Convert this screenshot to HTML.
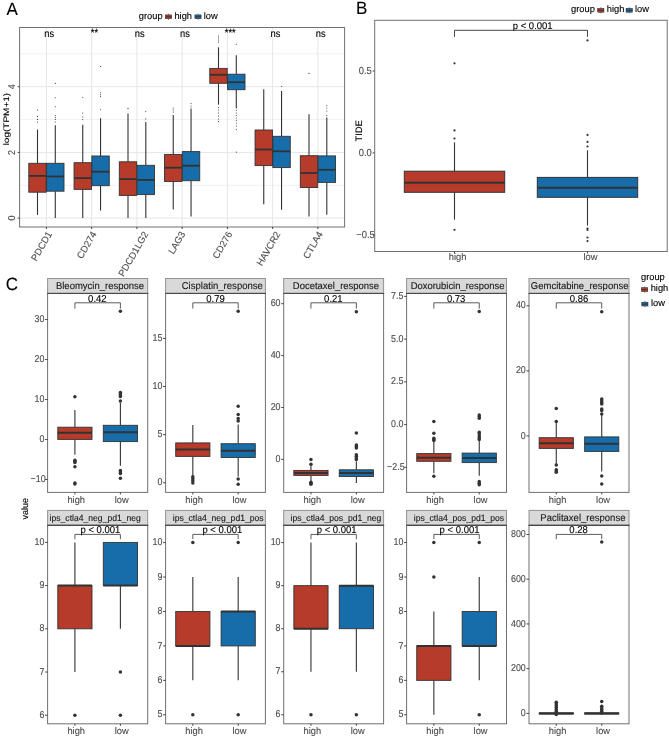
<!DOCTYPE html>
<html><head><meta charset="utf-8"><title>Figure</title>
<style>html,body{margin:0;padding:0;background:#fff;} svg{display:block;} text{font-family:"Liberation Sans", sans-serif;stroke-width:0.12px;text-rendering:geometricPrecision;}</style>
</head><body>
<svg width="669" height="738" viewBox="0 0 669 738">
<defs><filter id="soft" x="0" y="0" width="100%" height="100%"><feGaussianBlur stdDeviation="0.35"/></filter></defs>
<rect x="0" y="0" width="669" height="738" fill="#fff"/>
<g filter="url(#soft)">
<rect x="0" y="0" width="669" height="738" fill="#fff"/>
<line x1="19.60" y1="185.25" x2="344.60" y2="185.25" stroke="#EEEEEE" stroke-width="0.8" />
<line x1="19.60" y1="119.55" x2="344.60" y2="119.55" stroke="#EEEEEE" stroke-width="0.8" />
<line x1="19.60" y1="53.85" x2="344.60" y2="53.85" stroke="#EEEEEE" stroke-width="0.8" />
<line x1="19.60" y1="218.10" x2="344.60" y2="218.10" stroke="#E6E6E6" stroke-width="1.0" />
<line x1="19.60" y1="152.40" x2="344.60" y2="152.40" stroke="#E6E6E6" stroke-width="1.0" />
<line x1="19.60" y1="86.70" x2="344.60" y2="86.70" stroke="#E6E6E6" stroke-width="1.0" />
<line x1="46.40" y1="27.50" x2="46.40" y2="227.00" stroke="#E6E6E6" stroke-width="1.0" />
<line x1="91.65" y1="27.50" x2="91.65" y2="227.00" stroke="#E6E6E6" stroke-width="1.0" />
<line x1="136.90" y1="27.50" x2="136.90" y2="227.00" stroke="#E6E6E6" stroke-width="1.0" />
<line x1="182.15" y1="27.50" x2="182.15" y2="227.00" stroke="#E6E6E6" stroke-width="1.0" />
<line x1="227.40" y1="27.50" x2="227.40" y2="227.00" stroke="#E6E6E6" stroke-width="1.0" />
<line x1="272.65" y1="27.50" x2="272.65" y2="227.00" stroke="#E6E6E6" stroke-width="1.0" />
<line x1="317.90" y1="27.50" x2="317.90" y2="227.00" stroke="#E6E6E6" stroke-width="1.0" />
<line x1="37.50" y1="129.50" x2="37.50" y2="163.30" stroke="#333333" stroke-width="1.1" />
<line x1="37.50" y1="192.20" x2="37.50" y2="214.90" stroke="#333333" stroke-width="1.1" />
<rect x="28.80" y="163.30" width="17.40" height="28.90" fill="#B63A2A" stroke="#333333" stroke-width="0.9" />
<line x1="28.80" y1="175.90" x2="46.20" y2="175.90" stroke="#333333" stroke-width="1.8" />
<circle cx="37.50" cy="110.00" r="0.55" fill="#333333"/>
<circle cx="37.50" cy="116.40" r="0.55" fill="#333333"/>
<circle cx="37.50" cy="119.40" r="0.55" fill="#333333"/>
<circle cx="37.50" cy="122.00" r="0.55" fill="#333333"/>
<line x1="55.30" y1="125.30" x2="55.30" y2="163.30" stroke="#333333" stroke-width="1.1" />
<line x1="55.30" y1="191.20" x2="55.30" y2="218.10" stroke="#333333" stroke-width="1.1" />
<rect x="46.60" y="163.30" width="17.40" height="27.90" fill="#146DAA" stroke="#333333" stroke-width="0.9" />
<line x1="46.60" y1="176.50" x2="64.00" y2="176.50" stroke="#333333" stroke-width="1.8" />
<circle cx="55.30" cy="83.40" r="0.55" fill="#333333"/>
<circle cx="55.30" cy="97.80" r="0.55" fill="#333333"/>
<circle cx="55.30" cy="106.70" r="0.55" fill="#333333"/>
<circle cx="55.30" cy="115.60" r="0.55" fill="#333333"/>
<circle cx="55.30" cy="117.50" r="0.55" fill="#333333"/>
<circle cx="55.30" cy="119.40" r="0.55" fill="#333333"/>
<circle cx="55.30" cy="122.00" r="0.55" fill="#333333"/>
<line x1="82.75" y1="124.70" x2="82.75" y2="162.70" stroke="#333333" stroke-width="1.1" />
<line x1="82.75" y1="189.40" x2="82.75" y2="218.10" stroke="#333333" stroke-width="1.1" />
<rect x="74.05" y="162.70" width="17.40" height="26.70" fill="#B63A2A" stroke="#333333" stroke-width="0.9" />
<line x1="74.05" y1="178.10" x2="91.45" y2="178.10" stroke="#333333" stroke-width="1.8" />
<circle cx="82.75" cy="97.30" r="0.55" fill="#333333"/>
<circle cx="82.75" cy="113.00" r="0.55" fill="#333333"/>
<circle cx="82.75" cy="117.00" r="0.55" fill="#333333"/>
<circle cx="82.75" cy="119.50" r="0.55" fill="#333333"/>
<line x1="100.55" y1="118.30" x2="100.55" y2="156.00" stroke="#333333" stroke-width="1.1" />
<line x1="100.55" y1="185.70" x2="100.55" y2="210.60" stroke="#333333" stroke-width="1.1" />
<rect x="91.85" y="156.00" width="17.40" height="29.70" fill="#146DAA" stroke="#333333" stroke-width="0.9" />
<line x1="91.85" y1="171.70" x2="109.25" y2="171.70" stroke="#333333" stroke-width="1.8" />
<circle cx="100.55" cy="66.60" r="0.55" fill="#333333"/>
<circle cx="100.55" cy="92.80" r="0.55" fill="#333333"/>
<circle cx="100.55" cy="94.70" r="0.55" fill="#333333"/>
<circle cx="100.55" cy="96.60" r="0.55" fill="#333333"/>
<circle cx="100.55" cy="109.80" r="0.55" fill="#333333"/>
<line x1="128.00" y1="113.50" x2="128.00" y2="161.80" stroke="#333333" stroke-width="1.1" />
<line x1="128.00" y1="195.40" x2="128.00" y2="217.90" stroke="#333333" stroke-width="1.1" />
<rect x="119.30" y="161.80" width="17.40" height="33.60" fill="#B63A2A" stroke="#333333" stroke-width="0.9" />
<line x1="119.30" y1="179.10" x2="136.70" y2="179.10" stroke="#333333" stroke-width="1.8" />
<circle cx="128.00" cy="108.40" r="0.55" fill="#333333"/>
<line x1="145.80" y1="121.90" x2="145.80" y2="165.30" stroke="#333333" stroke-width="1.1" />
<line x1="145.80" y1="194.60" x2="145.80" y2="217.90" stroke="#333333" stroke-width="1.1" />
<rect x="137.10" y="165.30" width="17.40" height="29.30" fill="#146DAA" stroke="#333333" stroke-width="0.9" />
<line x1="137.10" y1="179.90" x2="154.50" y2="179.90" stroke="#333333" stroke-width="1.8" />
<circle cx="145.80" cy="111.60" r="0.55" fill="#333333"/>
<circle cx="145.80" cy="118.90" r="0.55" fill="#333333"/>
<line x1="173.25" y1="114.90" x2="173.25" y2="154.40" stroke="#333333" stroke-width="1.1" />
<line x1="173.25" y1="181.50" x2="173.25" y2="209.60" stroke="#333333" stroke-width="1.1" />
<rect x="164.55" y="154.40" width="17.40" height="27.10" fill="#B63A2A" stroke="#333333" stroke-width="0.9" />
<line x1="164.55" y1="167.70" x2="181.95" y2="167.70" stroke="#333333" stroke-width="1.8" />
<circle cx="173.25" cy="108.00" r="0.55" fill="#333333"/>
<circle cx="173.25" cy="110.00" r="0.55" fill="#333333"/>
<circle cx="173.25" cy="112.00" r="0.55" fill="#333333"/>
<line x1="191.05" y1="109.00" x2="191.05" y2="151.60" stroke="#333333" stroke-width="1.1" />
<line x1="191.05" y1="180.70" x2="191.05" y2="216.50" stroke="#333333" stroke-width="1.1" />
<rect x="182.35" y="151.60" width="17.40" height="29.10" fill="#146DAA" stroke="#333333" stroke-width="0.9" />
<line x1="182.35" y1="165.70" x2="199.75" y2="165.70" stroke="#333333" stroke-width="1.8" />
<circle cx="191.05" cy="103.60" r="0.55" fill="#333333"/>
<circle cx="191.05" cy="106.00" r="0.55" fill="#333333"/>
<circle cx="191.05" cy="108.00" r="0.55" fill="#333333"/>
<line x1="218.50" y1="47.30" x2="218.50" y2="68.40" stroke="#333333" stroke-width="1.1" />
<line x1="218.50" y1="83.30" x2="218.50" y2="104.70" stroke="#333333" stroke-width="1.1" />
<rect x="209.80" y="68.40" width="17.40" height="14.90" fill="#B63A2A" stroke="#333333" stroke-width="0.9" />
<line x1="209.80" y1="74.80" x2="227.20" y2="74.80" stroke="#333333" stroke-width="1.8" />
<circle cx="218.50" cy="36.00" r="0.55" fill="#333333"/>
<circle cx="218.50" cy="38.00" r="0.55" fill="#333333"/>
<circle cx="218.50" cy="40.00" r="0.55" fill="#333333"/>
<circle cx="218.50" cy="42.00" r="0.55" fill="#333333"/>
<circle cx="218.50" cy="107.60" r="0.55" fill="#333333"/>
<circle cx="218.50" cy="110.00" r="0.55" fill="#333333"/>
<circle cx="218.50" cy="113.00" r="0.55" fill="#333333"/>
<circle cx="218.50" cy="116.00" r="0.55" fill="#333333"/>
<circle cx="218.50" cy="119.00" r="0.55" fill="#333333"/>
<circle cx="218.50" cy="121.60" r="0.55" fill="#333333"/>
<line x1="236.30" y1="55.30" x2="236.30" y2="74.20" stroke="#333333" stroke-width="1.1" />
<line x1="236.30" y1="89.70" x2="236.30" y2="108.60" stroke="#333333" stroke-width="1.1" />
<rect x="227.60" y="74.20" width="17.40" height="15.50" fill="#146DAA" stroke="#333333" stroke-width="0.9" />
<line x1="227.60" y1="82.20" x2="245.00" y2="82.20" stroke="#333333" stroke-width="1.8" />
<circle cx="236.30" cy="44.30" r="0.55" fill="#333333"/>
<circle cx="236.30" cy="110.50" r="0.55" fill="#333333"/>
<circle cx="236.30" cy="113.00" r="0.55" fill="#333333"/>
<circle cx="236.30" cy="115.50" r="0.55" fill="#333333"/>
<circle cx="236.30" cy="118.00" r="0.55" fill="#333333"/>
<circle cx="236.30" cy="120.50" r="0.55" fill="#333333"/>
<circle cx="236.30" cy="123.00" r="0.55" fill="#333333"/>
<circle cx="236.30" cy="126.00" r="0.55" fill="#333333"/>
<circle cx="236.30" cy="129.60" r="0.55" fill="#333333"/>
<circle cx="236.30" cy="152.10" r="0.55" fill="#333333"/>
<line x1="263.75" y1="89.30" x2="263.75" y2="130.00" stroke="#333333" stroke-width="1.1" />
<line x1="263.75" y1="165.60" x2="263.75" y2="204.30" stroke="#333333" stroke-width="1.1" />
<rect x="255.05" y="130.00" width="17.40" height="35.60" fill="#B63A2A" stroke="#333333" stroke-width="0.9" />
<line x1="255.05" y1="149.50" x2="272.45" y2="149.50" stroke="#333333" stroke-width="1.8" />
<line x1="281.55" y1="91.10" x2="281.55" y2="136.30" stroke="#333333" stroke-width="1.1" />
<line x1="281.55" y1="167.60" x2="281.55" y2="209.80" stroke="#333333" stroke-width="1.1" />
<rect x="272.85" y="136.30" width="17.40" height="31.30" fill="#146DAA" stroke="#333333" stroke-width="0.9" />
<line x1="272.85" y1="151.30" x2="290.25" y2="151.30" stroke="#333333" stroke-width="1.8" />
<circle cx="281.55" cy="86.30" r="0.55" fill="#333333"/>
<line x1="309.00" y1="114.20" x2="309.00" y2="155.70" stroke="#333333" stroke-width="1.1" />
<line x1="309.00" y1="187.50" x2="309.00" y2="216.60" stroke="#333333" stroke-width="1.1" />
<rect x="300.30" y="155.70" width="17.40" height="31.80" fill="#B63A2A" stroke="#333333" stroke-width="0.9" />
<line x1="300.30" y1="173.00" x2="317.70" y2="173.00" stroke="#333333" stroke-width="1.8" />
<circle cx="309.00" cy="73.40" r="0.55" fill="#333333"/>
<line x1="326.80" y1="117.60" x2="326.80" y2="155.90" stroke="#333333" stroke-width="1.1" />
<line x1="326.80" y1="182.40" x2="326.80" y2="214.80" stroke="#333333" stroke-width="1.1" />
<rect x="318.10" y="155.90" width="17.40" height="26.50" fill="#146DAA" stroke="#333333" stroke-width="0.9" />
<line x1="318.10" y1="169.80" x2="335.50" y2="169.80" stroke="#333333" stroke-width="1.8" />
<circle cx="326.80" cy="105.70" r="0.55" fill="#333333"/>
<circle cx="326.80" cy="108.00" r="0.55" fill="#333333"/>
<circle cx="326.80" cy="111.00" r="0.55" fill="#333333"/>
<circle cx="326.80" cy="115.60" r="0.55" fill="#333333"/>
<rect x="19.60" y="27.50" width="325.00" height="199.50" fill="none" stroke="#707070" stroke-width="1.0" />
<line x1="17.60" y1="218.10" x2="19.60" y2="218.10" stroke="#333333" stroke-width="0.9" />
<text transform="translate(15.00,218.10) rotate(-90) scale(1,1.1)" font-size="9.0" text-anchor="middle" fill="#4D4D4D" stroke="#4D4D4D">0</text>
<line x1="17.60" y1="152.40" x2="19.60" y2="152.40" stroke="#333333" stroke-width="0.9" />
<text transform="translate(15.00,152.40) rotate(-90) scale(1,1.1)" font-size="9.0" text-anchor="middle" fill="#4D4D4D" stroke="#4D4D4D">2</text>
<line x1="17.60" y1="86.70" x2="19.60" y2="86.70" stroke="#333333" stroke-width="0.9" />
<text transform="translate(15.00,86.70) rotate(-90) scale(1,1.1)" font-size="9.0" text-anchor="middle" fill="#4D4D4D" stroke="#4D4D4D">4</text>
<text transform="translate(9.0,119.1) rotate(-90) scale(1.0,0.8)" font-size="10.0" text-anchor="middle" fill="#000" stroke="#000">log(TPM+1)</text>
<line x1="46.40" y1="227.00" x2="46.40" y2="229.00" stroke="#333333" stroke-width="0.9" />
<text transform="translate(52.40,233.80) rotate(-60)" font-size="9.5" text-anchor="end" fill="#4D4D4D" stroke="#4D4D4D">PDCD1</text>
<line x1="91.65" y1="227.00" x2="91.65" y2="229.00" stroke="#333333" stroke-width="0.9" />
<text transform="translate(96.85,233.80) rotate(-60)" font-size="9.5" text-anchor="end" fill="#4D4D4D" stroke="#4D4D4D">CD274</text>
<line x1="136.90" y1="227.00" x2="136.90" y2="229.00" stroke="#333333" stroke-width="0.9" />
<text transform="translate(148.70,233.80) rotate(-60)" font-size="9.5" text-anchor="end" fill="#4D4D4D" stroke="#4D4D4D">PDCD1LG2</text>
<line x1="182.15" y1="227.00" x2="182.15" y2="229.00" stroke="#333333" stroke-width="0.9" />
<text transform="translate(185.65,233.80) rotate(-60)" font-size="9.5" text-anchor="end" fill="#4D4D4D" stroke="#4D4D4D">LAG3</text>
<line x1="227.40" y1="227.00" x2="227.40" y2="229.00" stroke="#333333" stroke-width="0.9" />
<text transform="translate(232.60,233.80) rotate(-60)" font-size="9.5" text-anchor="end" fill="#4D4D4D" stroke="#4D4D4D">CD276</text>
<line x1="272.65" y1="227.00" x2="272.65" y2="229.00" stroke="#333333" stroke-width="0.9" />
<text transform="translate(280.75,233.80) rotate(-60)" font-size="9.5" text-anchor="end" fill="#4D4D4D" stroke="#4D4D4D">HAVCR2</text>
<line x1="317.90" y1="227.00" x2="317.90" y2="229.00" stroke="#333333" stroke-width="0.9" />
<text transform="translate(323.10,233.80) rotate(-60)" font-size="9.5" text-anchor="end" fill="#4D4D4D" stroke="#4D4D4D">CTLA4</text>
<text transform="translate(49.20,36.50) scale(1,1.12)" font-size="9.3" text-anchor="middle" fill="#000" stroke="#000" >ns</text>
<text transform="translate(94.45,35.70) scale(1,1.12)" font-size="9.3" text-anchor="middle" fill="#000" stroke="#000" >**</text>
<text transform="translate(139.70,36.50) scale(1,1.12)" font-size="9.3" text-anchor="middle" fill="#000" stroke="#000" >ns</text>
<text transform="translate(184.95,36.50) scale(1,1.12)" font-size="9.3" text-anchor="middle" fill="#000" stroke="#000" >ns</text>
<text transform="translate(230.20,35.70) scale(1,1.12)" font-size="9.3" text-anchor="middle" fill="#000" stroke="#000" >***</text>
<text transform="translate(275.45,36.50) scale(1,1.12)" font-size="9.3" text-anchor="middle" fill="#000" stroke="#000" >ns</text>
<text transform="translate(320.70,36.50) scale(1,1.12)" font-size="9.3" text-anchor="middle" fill="#000" stroke="#000" >ns</text>
<text transform="translate(138.80,18.80) scale(1,1.0)" font-size="9.3" text-anchor="start" fill="#000" stroke="#000" >group</text>
<line x1="168.50" y1="13.70" x2="168.50" y2="14.90" stroke="#333333" stroke-width="0.6" />
<line x1="168.50" y1="18.70" x2="168.50" y2="19.90" stroke="#333333" stroke-width="0.6" />
<rect x="165.40" y="14.90" width="6.20" height="3.80" fill="#B63A2A" stroke="#333333" stroke-width="0.6" />
<line x1="165.40" y1="16.80" x2="171.60" y2="16.80" stroke="#333333" stroke-width="0.9" />
<text transform="translate(174.40,18.80) scale(1,1.0)" font-size="9.3" text-anchor="start" fill="#000" stroke="#000" >high</text>
<line x1="198.00" y1="13.70" x2="198.00" y2="14.90" stroke="#333333" stroke-width="0.6" />
<line x1="198.00" y1="18.70" x2="198.00" y2="19.90" stroke="#333333" stroke-width="0.6" />
<rect x="194.90" y="14.90" width="6.20" height="3.80" fill="#146DAA" stroke="#333333" stroke-width="0.6" />
<line x1="194.90" y1="16.80" x2="201.10" y2="16.80" stroke="#333333" stroke-width="0.9" />
<text transform="translate(203.70,18.80) scale(1,1.0)" font-size="9.3" text-anchor="start" fill="#000" stroke="#000" >low</text>
<text transform="translate(6.50,14.70) scale(1,1.05)" font-size="17" text-anchor="start" fill="#000" stroke="#000" >A</text>
<line x1="454.50" y1="142.30" x2="454.50" y2="171.20" stroke="#333333" stroke-width="1.1" />
<line x1="454.50" y1="192.30" x2="454.50" y2="219.60" stroke="#333333" stroke-width="1.1" />
<rect x="404.30" y="171.20" width="100.40" height="21.10" fill="#B63A2A" stroke="#333333" stroke-width="1.0" />
<line x1="404.30" y1="182.70" x2="504.70" y2="182.70" stroke="#333333" stroke-width="2.0" />
<circle cx="454.50" cy="63.30" r="1.1" fill="#333333"/>
<circle cx="454.50" cy="130.40" r="1.1" fill="#333333"/>
<circle cx="454.50" cy="138.50" r="1.1" fill="#333333"/>
<circle cx="454.50" cy="229.80" r="1.1" fill="#333333"/>
<line x1="587.50" y1="150.30" x2="587.50" y2="177.40" stroke="#333333" stroke-width="1.1" />
<line x1="587.50" y1="197.30" x2="587.50" y2="225.60" stroke="#333333" stroke-width="1.1" />
<rect x="537.30" y="177.40" width="100.40" height="19.90" fill="#146DAA" stroke="#333333" stroke-width="1.0" />
<line x1="537.30" y1="187.70" x2="637.70" y2="187.70" stroke="#333333" stroke-width="2.0" />
<circle cx="587.50" cy="40.40" r="1.1" fill="#333333"/>
<circle cx="587.50" cy="134.90" r="1.1" fill="#333333"/>
<circle cx="587.50" cy="141.90" r="1.1" fill="#333333"/>
<circle cx="587.50" cy="146.50" r="1.1" fill="#333333"/>
<circle cx="587.50" cy="228.60" r="1.1" fill="#333333"/>
<circle cx="587.50" cy="230.00" r="1.1" fill="#333333"/>
<circle cx="587.50" cy="237.50" r="1.1" fill="#333333"/>
<circle cx="587.50" cy="241.10" r="1.1" fill="#333333"/>
<rect x="374.70" y="20.30" width="292.50" height="231.20" fill="none" stroke="#707070" stroke-width="1.0" />
<line x1="372.70" y1="71.00" x2="374.70" y2="71.00" stroke="#333333" stroke-width="0.9" />
<text transform="translate(371.80,74.20) scale(1,1.08)" font-size="9.4" text-anchor="end" fill="#4D4D4D" stroke="#4D4D4D" >0.5</text>
<line x1="372.70" y1="152.90" x2="374.70" y2="152.90" stroke="#333333" stroke-width="0.9" />
<text transform="translate(371.80,156.10) scale(1,1.08)" font-size="9.4" text-anchor="end" fill="#4D4D4D" stroke="#4D4D4D" >0.0</text>
<line x1="372.70" y1="234.80" x2="374.70" y2="234.80" stroke="#333333" stroke-width="0.9" />
<text transform="translate(374.80,238.00) scale(1,1.08)" font-size="9.4" text-anchor="end" fill="#4D4D4D" stroke="#4D4D4D" >−0.5</text>
<line x1="454.50" y1="251.50" x2="454.50" y2="253.50" stroke="#333333" stroke-width="0.9" />
<text transform="translate(457.50,260.20) scale(1,1.03)" font-size="9.3" text-anchor="middle" fill="#4D4D4D" stroke="#4D4D4D" >high</text>
<line x1="587.50" y1="251.50" x2="587.50" y2="253.50" stroke="#333333" stroke-width="0.9" />
<text transform="translate(590.50,260.20) scale(1,1.03)" font-size="9.3" text-anchor="middle" fill="#4D4D4D" stroke="#4D4D4D" >low</text>
<text transform="translate(362.30,130.90) rotate(-90) scale(1,1.0)" font-size="9.4" text-anchor="middle" fill="#000" stroke="#000">TIDE</text>
<polyline points="454.5,36.9 454.5,30.3 587.5,30.3 587.5,36.9" fill="none" stroke="#333333" stroke-width="0.9"/>
<text transform="translate(532.70,29.00) scale(1,1.02)" font-size="9.5" text-anchor="middle" fill="#000" stroke="#000" >p &lt; 0.001</text>
<text transform="translate(571.10,12.20) scale(1,1.0)" font-size="9.3" text-anchor="start" fill="#000" stroke="#000" >group</text>
<line x1="600.80" y1="7.20" x2="600.80" y2="8.40" stroke="#333333" stroke-width="0.6" />
<line x1="600.80" y1="12.20" x2="600.80" y2="13.40" stroke="#333333" stroke-width="0.6" />
<rect x="597.70" y="8.40" width="6.20" height="3.80" fill="#B63A2A" stroke="#333333" stroke-width="0.6" />
<line x1="597.70" y1="10.30" x2="603.90" y2="10.30" stroke="#333333" stroke-width="0.9" />
<text transform="translate(606.80,12.20) scale(1,1.0)" font-size="9.3" text-anchor="start" fill="#000" stroke="#000" >high</text>
<line x1="629.20" y1="7.20" x2="629.20" y2="8.40" stroke="#333333" stroke-width="0.6" />
<line x1="629.20" y1="12.20" x2="629.20" y2="13.40" stroke="#333333" stroke-width="0.6" />
<rect x="626.10" y="8.40" width="6.20" height="3.80" fill="#146DAA" stroke="#333333" stroke-width="0.6" />
<line x1="626.10" y1="10.30" x2="632.30" y2="10.30" stroke="#333333" stroke-width="0.9" />
<text transform="translate(635.00,12.20) scale(1,1.0)" font-size="9.3" text-anchor="start" fill="#000" stroke="#000" >low</text>
<text transform="translate(356.00,13.50) scale(1,1.05)" font-size="17" text-anchor="start" fill="#000" stroke="#000" >B</text>
<text transform="translate(5.80,289.70) scale(1,1.05)" font-size="17" text-anchor="start" fill="#000" stroke="#000" >C</text>
<line x1="74.90" y1="409.90" x2="74.90" y2="427.20" stroke="#333333" stroke-width="1.1" />
<line x1="74.90" y1="439.40" x2="74.90" y2="454.70" stroke="#333333" stroke-width="1.1" />
<rect x="57.80" y="427.20" width="34.20" height="12.20" fill="#B63A2A" stroke="#333333" stroke-width="0.9" />
<line x1="57.80" y1="432.70" x2="92.00" y2="432.70" stroke="#333333" stroke-width="2.0" />
<circle cx="74.90" cy="396.80" r="1.75" fill="#333333"/>
<circle cx="74.90" cy="460.20" r="1.75" fill="#333333"/>
<circle cx="74.90" cy="461.50" r="1.75" fill="#333333"/>
<circle cx="74.90" cy="462.50" r="1.75" fill="#333333"/>
<circle cx="74.90" cy="466.80" r="1.75" fill="#333333"/>
<circle cx="74.90" cy="483.00" r="1.75" fill="#333333"/>
<circle cx="74.90" cy="484.00" r="1.75" fill="#333333"/>
<line x1="120.40" y1="402.80" x2="120.40" y2="425.30" stroke="#333333" stroke-width="1.1" />
<line x1="120.40" y1="441.60" x2="120.40" y2="465.70" stroke="#333333" stroke-width="1.1" />
<rect x="103.30" y="425.30" width="34.20" height="16.30" fill="#146DAA" stroke="#333333" stroke-width="0.9" />
<line x1="103.30" y1="432.30" x2="137.50" y2="432.30" stroke="#333333" stroke-width="2.0" />
<circle cx="120.40" cy="311.30" r="1.75" fill="#333333"/>
<circle cx="120.40" cy="392.60" r="1.75" fill="#333333"/>
<circle cx="120.40" cy="393.80" r="1.75" fill="#333333"/>
<circle cx="120.40" cy="395.00" r="1.75" fill="#333333"/>
<circle cx="120.40" cy="396.50" r="1.75" fill="#333333"/>
<circle cx="120.40" cy="400.90" r="1.75" fill="#333333"/>
<circle cx="120.40" cy="470.40" r="1.75" fill="#333333"/>
<circle cx="120.40" cy="472.00" r="1.75" fill="#333333"/>
<circle cx="120.40" cy="473.50" r="1.75" fill="#333333"/>
<circle cx="120.40" cy="478.20" r="1.75" fill="#333333"/>
<rect x="47.60" y="293.10" width="100.10" height="199.30" fill="none" stroke="#707070" stroke-width="1.0" />
<rect x="47.60" y="278.50" width="100.10" height="14.60" fill="#D9D9D9" stroke="#929292" stroke-width="1.0" />
<line x1="47.10" y1="293.50" x2="148.20" y2="293.50" stroke="#4A4A4A" stroke-width="1.2" />
<text transform="translate(55.90,288.90) scale(1,1.04)" font-size="9.5" text-anchor="start" fill="#1A1A1A" stroke="#1A1A1A" >Bleomycin_response</text>
<line x1="45.10" y1="479.50" x2="47.60" y2="479.50" stroke="#333333" stroke-width="0.9" />
<text transform="translate(45.60,482.10) scale(1,1.12)" font-size="8.9" text-anchor="end" fill="#4D4D4D" stroke="#4D4D4D" >−10</text>
<line x1="45.10" y1="439.50" x2="47.60" y2="439.50" stroke="#333333" stroke-width="0.9" />
<text transform="translate(44.40,442.10) scale(1,1.12)" font-size="8.9" text-anchor="end" fill="#4D4D4D" stroke="#4D4D4D" >0</text>
<line x1="45.10" y1="399.50" x2="47.60" y2="399.50" stroke="#333333" stroke-width="0.9" />
<text transform="translate(44.40,402.10) scale(1,1.12)" font-size="8.9" text-anchor="end" fill="#4D4D4D" stroke="#4D4D4D" >10</text>
<line x1="45.10" y1="359.50" x2="47.60" y2="359.50" stroke="#333333" stroke-width="0.9" />
<text transform="translate(44.40,362.10) scale(1,1.12)" font-size="8.9" text-anchor="end" fill="#4D4D4D" stroke="#4D4D4D" >20</text>
<line x1="45.10" y1="319.50" x2="47.60" y2="319.50" stroke="#333333" stroke-width="0.9" />
<text transform="translate(44.40,322.10) scale(1,1.12)" font-size="8.9" text-anchor="end" fill="#4D4D4D" stroke="#4D4D4D" >30</text>
<line x1="74.90" y1="492.40" x2="74.90" y2="494.40" stroke="#333333" stroke-width="0.9" />
<text transform="translate(76.20,502.80) scale(1,1.03)" font-size="9.3" text-anchor="middle" fill="#4D4D4D" stroke="#4D4D4D" >high</text>
<line x1="120.40" y1="492.40" x2="120.40" y2="494.40" stroke="#333333" stroke-width="0.9" />
<text transform="translate(121.70,502.80) scale(1,1.03)" font-size="9.3" text-anchor="middle" fill="#4D4D4D" stroke="#4D4D4D" >low</text>
<polyline points="74.90,308.60 74.90,302.80 120.40,302.80 120.40,308.60" fill="none" stroke="#333333" stroke-width="0.8"/>
<text transform="translate(97.35,301.90) scale(1,1.05)" font-size="9.5" text-anchor="middle" fill="#000" stroke="#000" >0.42</text>
<line x1="192.82" y1="425.10" x2="192.82" y2="442.90" stroke="#333333" stroke-width="1.1" />
<line x1="192.82" y1="456.40" x2="192.82" y2="475.80" stroke="#333333" stroke-width="1.1" />
<rect x="175.72" y="442.90" width="34.20" height="13.50" fill="#B63A2A" stroke="#333333" stroke-width="0.9" />
<line x1="175.72" y1="449.60" x2="209.92" y2="449.60" stroke="#333333" stroke-width="2.0" />
<circle cx="192.82" cy="476.80" r="1.75" fill="#333333"/>
<circle cx="192.82" cy="478.80" r="1.75" fill="#333333"/>
<circle cx="192.82" cy="480.80" r="1.75" fill="#333333"/>
<circle cx="192.82" cy="482.90" r="1.75" fill="#333333"/>
<line x1="238.18" y1="424.50" x2="238.18" y2="443.70" stroke="#333333" stroke-width="1.1" />
<line x1="238.18" y1="457.50" x2="238.18" y2="476.60" stroke="#333333" stroke-width="1.1" />
<rect x="221.08" y="443.70" width="34.20" height="13.80" fill="#146DAA" stroke="#333333" stroke-width="0.9" />
<line x1="221.08" y1="450.70" x2="255.28" y2="450.70" stroke="#333333" stroke-width="2.0" />
<circle cx="238.18" cy="311.30" r="1.75" fill="#333333"/>
<circle cx="238.18" cy="406.30" r="1.75" fill="#333333"/>
<circle cx="238.18" cy="414.60" r="1.75" fill="#333333"/>
<circle cx="238.18" cy="418.50" r="1.75" fill="#333333"/>
<circle cx="238.18" cy="420.90" r="1.75" fill="#333333"/>
<circle cx="238.18" cy="479.00" r="1.75" fill="#333333"/>
<circle cx="238.18" cy="484.20" r="1.75" fill="#333333"/>
<rect x="165.60" y="293.10" width="99.80" height="199.30" fill="none" stroke="#707070" stroke-width="1.0" />
<rect x="165.60" y="278.50" width="99.80" height="14.60" fill="#D9D9D9" stroke="#929292" stroke-width="1.0" />
<line x1="165.10" y1="293.50" x2="265.90" y2="293.50" stroke="#4A4A4A" stroke-width="1.2" />
<text transform="translate(181.70,288.90) scale(1,1.04)" font-size="9.55" text-anchor="start" fill="#1A1A1A" stroke="#1A1A1A" >Cisplatin_response</text>
<line x1="163.10" y1="482.80" x2="165.60" y2="482.80" stroke="#333333" stroke-width="0.9" />
<text transform="translate(162.40,485.40) scale(1,1.12)" font-size="8.9" text-anchor="end" fill="#4D4D4D" stroke="#4D4D4D" >0</text>
<line x1="163.10" y1="434.67" x2="165.60" y2="434.67" stroke="#333333" stroke-width="0.9" />
<text transform="translate(162.40,437.27) scale(1,1.12)" font-size="8.9" text-anchor="end" fill="#4D4D4D" stroke="#4D4D4D" >5</text>
<line x1="163.10" y1="386.53" x2="165.60" y2="386.53" stroke="#333333" stroke-width="0.9" />
<text transform="translate(162.40,389.13) scale(1,1.12)" font-size="8.9" text-anchor="end" fill="#4D4D4D" stroke="#4D4D4D" >10</text>
<line x1="163.10" y1="338.40" x2="165.60" y2="338.40" stroke="#333333" stroke-width="0.9" />
<text transform="translate(162.40,341.00) scale(1,1.12)" font-size="8.9" text-anchor="end" fill="#4D4D4D" stroke="#4D4D4D" >15</text>
<line x1="192.82" y1="492.40" x2="192.82" y2="494.40" stroke="#333333" stroke-width="0.9" />
<text transform="translate(194.12,502.80) scale(1,1.03)" font-size="9.3" text-anchor="middle" fill="#4D4D4D" stroke="#4D4D4D" >high</text>
<line x1="238.18" y1="492.40" x2="238.18" y2="494.40" stroke="#333333" stroke-width="0.9" />
<text transform="translate(239.48,502.80) scale(1,1.03)" font-size="9.3" text-anchor="middle" fill="#4D4D4D" stroke="#4D4D4D" >low</text>
<polyline points="192.82,308.60 192.82,302.80 238.18,302.80 238.18,308.60" fill="none" stroke="#333333" stroke-width="0.8"/>
<text transform="translate(215.50,301.90) scale(1,1.05)" font-size="9.5" text-anchor="middle" fill="#000" stroke="#000" >0.79</text>
<line x1="310.95" y1="465.40" x2="310.95" y2="470.40" stroke="#333333" stroke-width="1.1" />
<line x1="310.95" y1="475.40" x2="310.95" y2="481.00" stroke="#333333" stroke-width="1.1" />
<rect x="293.85" y="470.40" width="34.20" height="5.00" fill="#B63A2A" stroke="#333333" stroke-width="0.9" />
<line x1="293.85" y1="473.10" x2="328.05" y2="473.10" stroke="#333333" stroke-width="2.0" />
<circle cx="310.95" cy="459.60" r="1.75" fill="#333333"/>
<circle cx="310.95" cy="464.20" r="1.75" fill="#333333"/>
<circle cx="310.95" cy="482.30" r="1.75" fill="#333333"/>
<circle cx="310.95" cy="483.30" r="1.75" fill="#333333"/>
<circle cx="310.95" cy="484.30" r="1.75" fill="#333333"/>
<line x1="356.35" y1="461.20" x2="356.35" y2="469.80" stroke="#333333" stroke-width="1.1" />
<line x1="356.35" y1="476.50" x2="356.35" y2="483.00" stroke="#333333" stroke-width="1.1" />
<rect x="339.25" y="469.80" width="34.20" height="6.70" fill="#146DAA" stroke="#333333" stroke-width="0.9" />
<line x1="339.25" y1="473.10" x2="373.45" y2="473.10" stroke="#333333" stroke-width="2.0" />
<circle cx="356.35" cy="311.70" r="1.75" fill="#333333"/>
<circle cx="356.35" cy="433.00" r="1.75" fill="#333333"/>
<circle cx="356.35" cy="445.00" r="1.75" fill="#333333"/>
<circle cx="356.35" cy="446.50" r="1.75" fill="#333333"/>
<circle cx="356.35" cy="448.00" r="1.75" fill="#333333"/>
<circle cx="356.35" cy="454.70" r="1.75" fill="#333333"/>
<circle cx="356.35" cy="456.30" r="1.75" fill="#333333"/>
<circle cx="356.35" cy="458.00" r="1.75" fill="#333333"/>
<circle cx="356.35" cy="459.60" r="1.75" fill="#333333"/>
<rect x="283.70" y="293.10" width="99.90" height="199.30" fill="none" stroke="#707070" stroke-width="1.0" />
<rect x="283.70" y="278.50" width="99.90" height="14.60" fill="#D9D9D9" stroke="#929292" stroke-width="1.0" />
<line x1="283.20" y1="293.50" x2="384.10" y2="293.50" stroke="#4A4A4A" stroke-width="1.2" />
<text transform="translate(292.80,288.90) scale(1,1.04)" font-size="9.48" text-anchor="start" fill="#1A1A1A" stroke="#1A1A1A" >Docetaxel_response</text>
<line x1="281.20" y1="459.40" x2="283.70" y2="459.40" stroke="#333333" stroke-width="0.9" />
<text transform="translate(280.50,462.00) scale(1,1.12)" font-size="8.9" text-anchor="end" fill="#4D4D4D" stroke="#4D4D4D" >0</text>
<line x1="281.20" y1="407.50" x2="283.70" y2="407.50" stroke="#333333" stroke-width="0.9" />
<text transform="translate(280.50,410.10) scale(1,1.12)" font-size="8.9" text-anchor="end" fill="#4D4D4D" stroke="#4D4D4D" >20</text>
<line x1="281.20" y1="355.60" x2="283.70" y2="355.60" stroke="#333333" stroke-width="0.9" />
<text transform="translate(280.50,358.20) scale(1,1.12)" font-size="8.9" text-anchor="end" fill="#4D4D4D" stroke="#4D4D4D" >40</text>
<line x1="281.20" y1="303.70" x2="283.70" y2="303.70" stroke="#333333" stroke-width="0.9" />
<text transform="translate(280.50,306.30) scale(1,1.12)" font-size="8.9" text-anchor="end" fill="#4D4D4D" stroke="#4D4D4D" >60</text>
<line x1="310.95" y1="492.40" x2="310.95" y2="494.40" stroke="#333333" stroke-width="0.9" />
<text transform="translate(312.25,502.80) scale(1,1.03)" font-size="9.3" text-anchor="middle" fill="#4D4D4D" stroke="#4D4D4D" >high</text>
<line x1="356.35" y1="492.40" x2="356.35" y2="494.40" stroke="#333333" stroke-width="0.9" />
<text transform="translate(357.65,502.80) scale(1,1.03)" font-size="9.3" text-anchor="middle" fill="#4D4D4D" stroke="#4D4D4D" >low</text>
<polyline points="310.95,308.60 310.95,302.80 356.35,302.80 356.35,308.60" fill="none" stroke="#333333" stroke-width="0.8"/>
<text transform="translate(333.35,301.90) scale(1,1.05)" font-size="9.5" text-anchor="middle" fill="#000" stroke="#000" >0.21</text>
<line x1="433.85" y1="442.00" x2="433.85" y2="453.60" stroke="#333333" stroke-width="1.1" />
<line x1="433.85" y1="461.30" x2="433.85" y2="473.30" stroke="#333333" stroke-width="1.1" />
<rect x="416.75" y="453.60" width="34.20" height="7.70" fill="#B63A2A" stroke="#333333" stroke-width="0.9" />
<line x1="416.75" y1="457.70" x2="450.95" y2="457.70" stroke="#333333" stroke-width="2.0" />
<circle cx="433.85" cy="421.50" r="1.75" fill="#333333"/>
<circle cx="433.85" cy="433.30" r="1.75" fill="#333333"/>
<circle cx="433.85" cy="438.30" r="1.75" fill="#333333"/>
<circle cx="433.85" cy="439.40" r="1.75" fill="#333333"/>
<circle cx="433.85" cy="440.40" r="1.75" fill="#333333"/>
<circle cx="433.85" cy="476.30" r="1.75" fill="#333333"/>
<line x1="479.25" y1="438.00" x2="479.25" y2="453.10" stroke="#333333" stroke-width="1.1" />
<line x1="479.25" y1="462.60" x2="479.25" y2="475.80" stroke="#333333" stroke-width="1.1" />
<rect x="462.15" y="453.10" width="34.20" height="9.50" fill="#146DAA" stroke="#333333" stroke-width="0.9" />
<line x1="462.15" y1="458.00" x2="496.35" y2="458.00" stroke="#333333" stroke-width="2.0" />
<circle cx="479.25" cy="311.40" r="1.75" fill="#333333"/>
<circle cx="479.25" cy="415.00" r="1.75" fill="#333333"/>
<circle cx="479.25" cy="416.60" r="1.75" fill="#333333"/>
<circle cx="479.25" cy="418.20" r="1.75" fill="#333333"/>
<circle cx="479.25" cy="432.20" r="1.75" fill="#333333"/>
<circle cx="479.25" cy="434.00" r="1.75" fill="#333333"/>
<circle cx="479.25" cy="436.00" r="1.75" fill="#333333"/>
<circle cx="479.25" cy="437.80" r="1.75" fill="#333333"/>
<circle cx="479.25" cy="439.60" r="1.75" fill="#333333"/>
<circle cx="479.25" cy="481.50" r="1.75" fill="#333333"/>
<circle cx="479.25" cy="483.20" r="1.75" fill="#333333"/>
<circle cx="479.25" cy="484.80" r="1.75" fill="#333333"/>
<rect x="406.60" y="293.10" width="99.90" height="199.30" fill="none" stroke="#707070" stroke-width="1.0" />
<rect x="406.60" y="278.50" width="99.90" height="14.60" fill="#D9D9D9" stroke="#929292" stroke-width="1.0" />
<line x1="406.10" y1="293.50" x2="507.00" y2="293.50" stroke="#4A4A4A" stroke-width="1.2" />
<text transform="translate(410.70,288.90) scale(1,1.04)" font-size="9.44" text-anchor="start" fill="#1A1A1A" stroke="#1A1A1A" >Doxorubicin_response</text>
<line x1="404.10" y1="467.33" x2="406.60" y2="467.33" stroke="#333333" stroke-width="0.9" />
<text transform="translate(404.60,469.93) scale(1,1.12)" font-size="8.9" text-anchor="end" fill="#4D4D4D" stroke="#4D4D4D" >−2.5</text>
<line x1="404.10" y1="424.60" x2="406.60" y2="424.60" stroke="#333333" stroke-width="0.9" />
<text transform="translate(403.40,427.20) scale(1,1.12)" font-size="8.9" text-anchor="end" fill="#4D4D4D" stroke="#4D4D4D" >0.0</text>
<line x1="404.10" y1="381.87" x2="406.60" y2="381.87" stroke="#333333" stroke-width="0.9" />
<text transform="translate(403.40,384.47) scale(1,1.12)" font-size="8.9" text-anchor="end" fill="#4D4D4D" stroke="#4D4D4D" >2.5</text>
<line x1="404.10" y1="339.13" x2="406.60" y2="339.13" stroke="#333333" stroke-width="0.9" />
<text transform="translate(403.40,341.73) scale(1,1.12)" font-size="8.9" text-anchor="end" fill="#4D4D4D" stroke="#4D4D4D" >5.0</text>
<line x1="404.10" y1="296.40" x2="406.60" y2="296.40" stroke="#333333" stroke-width="0.9" />
<text transform="translate(403.40,299.00) scale(1,1.12)" font-size="8.9" text-anchor="end" fill="#4D4D4D" stroke="#4D4D4D" >7.5</text>
<line x1="433.85" y1="492.40" x2="433.85" y2="494.40" stroke="#333333" stroke-width="0.9" />
<text transform="translate(435.15,502.80) scale(1,1.03)" font-size="9.3" text-anchor="middle" fill="#4D4D4D" stroke="#4D4D4D" >high</text>
<line x1="479.25" y1="492.40" x2="479.25" y2="494.40" stroke="#333333" stroke-width="0.9" />
<text transform="translate(480.55,502.80) scale(1,1.03)" font-size="9.3" text-anchor="middle" fill="#4D4D4D" stroke="#4D4D4D" >low</text>
<polyline points="433.85,308.60 433.85,302.80 479.25,302.80 479.25,308.60" fill="none" stroke="#333333" stroke-width="0.8"/>
<text transform="translate(456.15,301.90) scale(1,1.05)" font-size="9.5" text-anchor="middle" fill="#000" stroke="#000" >0.73</text>
<line x1="556.27" y1="421.60" x2="556.27" y2="437.70" stroke="#333333" stroke-width="1.1" />
<line x1="556.27" y1="448.40" x2="556.27" y2="464.00" stroke="#333333" stroke-width="1.1" />
<rect x="539.17" y="437.70" width="34.20" height="10.70" fill="#B63A2A" stroke="#333333" stroke-width="0.9" />
<line x1="539.17" y1="443.20" x2="573.37" y2="443.20" stroke="#333333" stroke-width="2.0" />
<circle cx="556.27" cy="408.50" r="1.75" fill="#333333"/>
<circle cx="556.27" cy="421.60" r="1.75" fill="#333333"/>
<circle cx="556.27" cy="464.90" r="1.75" fill="#333333"/>
<circle cx="556.27" cy="469.80" r="1.75" fill="#333333"/>
<circle cx="556.27" cy="471.00" r="1.75" fill="#333333"/>
<circle cx="556.27" cy="472.30" r="1.75" fill="#333333"/>
<line x1="601.73" y1="413.90" x2="601.73" y2="436.90" stroke="#333333" stroke-width="1.1" />
<line x1="601.73" y1="451.40" x2="601.73" y2="471.50" stroke="#333333" stroke-width="1.1" />
<rect x="584.63" y="436.90" width="34.20" height="14.50" fill="#146DAA" stroke="#333333" stroke-width="0.9" />
<line x1="584.63" y1="443.80" x2="618.83" y2="443.80" stroke="#333333" stroke-width="2.0" />
<circle cx="601.73" cy="311.80" r="1.75" fill="#333333"/>
<circle cx="601.73" cy="399.10" r="1.75" fill="#333333"/>
<circle cx="601.73" cy="400.70" r="1.75" fill="#333333"/>
<circle cx="601.73" cy="402.40" r="1.75" fill="#333333"/>
<circle cx="601.73" cy="404.00" r="1.75" fill="#333333"/>
<circle cx="601.73" cy="409.00" r="1.75" fill="#333333"/>
<circle cx="601.73" cy="410.60" r="1.75" fill="#333333"/>
<circle cx="601.73" cy="413.90" r="1.75" fill="#333333"/>
<circle cx="601.73" cy="475.90" r="1.75" fill="#333333"/>
<circle cx="601.73" cy="484.10" r="1.75" fill="#333333"/>
<rect x="529.00" y="293.10" width="100.00" height="199.30" fill="none" stroke="#707070" stroke-width="1.0" />
<rect x="529.00" y="278.50" width="100.00" height="14.60" fill="#D9D9D9" stroke="#929292" stroke-width="1.0" />
<line x1="528.50" y1="293.50" x2="629.50" y2="293.50" stroke="#4A4A4A" stroke-width="1.2" />
<text transform="translate(530.80,288.90) scale(1,1.04)" font-size="9.5" text-anchor="start" fill="#1A1A1A" stroke="#1A1A1A" >Gemcitabine_response</text>
<line x1="526.50" y1="435.90" x2="529.00" y2="435.90" stroke="#333333" stroke-width="0.9" />
<text transform="translate(525.80,438.50) scale(1,1.12)" font-size="8.9" text-anchor="end" fill="#4D4D4D" stroke="#4D4D4D" >0</text>
<line x1="526.50" y1="370.85" x2="529.00" y2="370.85" stroke="#333333" stroke-width="0.9" />
<text transform="translate(525.80,373.45) scale(1,1.12)" font-size="8.9" text-anchor="end" fill="#4D4D4D" stroke="#4D4D4D" >20</text>
<line x1="526.50" y1="305.80" x2="529.00" y2="305.80" stroke="#333333" stroke-width="0.9" />
<text transform="translate(525.80,308.40) scale(1,1.12)" font-size="8.9" text-anchor="end" fill="#4D4D4D" stroke="#4D4D4D" >40</text>
<line x1="556.27" y1="492.40" x2="556.27" y2="494.40" stroke="#333333" stroke-width="0.9" />
<text transform="translate(557.57,502.80) scale(1,1.03)" font-size="9.3" text-anchor="middle" fill="#4D4D4D" stroke="#4D4D4D" >high</text>
<line x1="601.73" y1="492.40" x2="601.73" y2="494.40" stroke="#333333" stroke-width="0.9" />
<text transform="translate(603.03,502.80) scale(1,1.03)" font-size="9.3" text-anchor="middle" fill="#4D4D4D" stroke="#4D4D4D" >low</text>
<polyline points="556.27,308.60 556.27,302.80 601.73,302.80 601.73,308.60" fill="none" stroke="#333333" stroke-width="0.8"/>
<text transform="translate(579.00,301.90) scale(1,1.05)" font-size="9.5" text-anchor="middle" fill="#000" stroke="#000" >0.86</text>
<line x1="74.90" y1="542.40" x2="74.90" y2="585.60" stroke="#333333" stroke-width="1.1" />
<line x1="74.90" y1="628.80" x2="74.90" y2="672.00" stroke="#333333" stroke-width="1.1" />
<rect x="57.80" y="585.60" width="34.20" height="43.20" fill="#B63A2A" stroke="#333333" stroke-width="0.9" />
<line x1="57.80" y1="585.60" x2="92.00" y2="585.60" stroke="#333333" stroke-width="2.0" />
<circle cx="74.90" cy="715.20" r="1.75" fill="#333333"/>
<line x1="120.40" y1="585.60" x2="120.40" y2="628.80" stroke="#333333" stroke-width="1.1" />
<rect x="103.30" y="542.40" width="34.20" height="43.20" fill="#146DAA" stroke="#333333" stroke-width="0.9" />
<line x1="103.30" y1="585.60" x2="137.50" y2="585.60" stroke="#333333" stroke-width="2.0" />
<circle cx="120.40" cy="672.00" r="1.75" fill="#333333"/>
<circle cx="120.40" cy="715.20" r="1.75" fill="#333333"/>
<rect x="47.60" y="525.00" width="100.10" height="198.80" fill="none" stroke="#707070" stroke-width="1.0" />
<rect x="47.60" y="510.40" width="100.10" height="14.60" fill="#D9D9D9" stroke="#929292" stroke-width="1.0" />
<line x1="47.10" y1="525.40" x2="148.20" y2="525.40" stroke="#4A4A4A" stroke-width="1.2" />
<text transform="translate(49.60,520.80) scale(1,1.04)" font-size="8.6" text-anchor="start" fill="#1A1A1A" stroke="#1A1A1A" >ips_ctla4_neg_pd1_neg</text>
<line x1="45.10" y1="715.20" x2="47.60" y2="715.20" stroke="#333333" stroke-width="0.9" />
<text transform="translate(44.40,717.80) scale(1,1.12)" font-size="8.9" text-anchor="end" fill="#4D4D4D" stroke="#4D4D4D" >6</text>
<line x1="45.10" y1="672.00" x2="47.60" y2="672.00" stroke="#333333" stroke-width="0.9" />
<text transform="translate(44.40,674.60) scale(1,1.12)" font-size="8.9" text-anchor="end" fill="#4D4D4D" stroke="#4D4D4D" >7</text>
<line x1="45.10" y1="628.80" x2="47.60" y2="628.80" stroke="#333333" stroke-width="0.9" />
<text transform="translate(44.40,631.40) scale(1,1.12)" font-size="8.9" text-anchor="end" fill="#4D4D4D" stroke="#4D4D4D" >8</text>
<line x1="45.10" y1="585.60" x2="47.60" y2="585.60" stroke="#333333" stroke-width="0.9" />
<text transform="translate(44.40,588.20) scale(1,1.12)" font-size="8.9" text-anchor="end" fill="#4D4D4D" stroke="#4D4D4D" >9</text>
<line x1="45.10" y1="542.40" x2="47.60" y2="542.40" stroke="#333333" stroke-width="0.9" />
<text transform="translate(44.40,545.00) scale(1,1.12)" font-size="8.9" text-anchor="end" fill="#4D4D4D" stroke="#4D4D4D" >10</text>
<line x1="74.90" y1="723.80" x2="74.90" y2="725.80" stroke="#333333" stroke-width="0.9" />
<text transform="translate(76.20,734.20) scale(1,1.03)" font-size="9.3" text-anchor="middle" fill="#4D4D4D" stroke="#4D4D4D" >high</text>
<line x1="120.40" y1="723.80" x2="120.40" y2="725.80" stroke="#333333" stroke-width="0.9" />
<text transform="translate(121.70,734.20) scale(1,1.03)" font-size="9.3" text-anchor="middle" fill="#4D4D4D" stroke="#4D4D4D" >low</text>
<polyline points="74.90,539.20 74.90,534.40 120.40,534.40 120.40,539.20" fill="none" stroke="#333333" stroke-width="0.8"/>
<text transform="translate(100.45,532.60) scale(1,1.05)" font-size="9.5" text-anchor="middle" fill="#000" stroke="#000" >p &lt; 0.001</text>
<line x1="192.82" y1="577.04" x2="192.82" y2="611.48" stroke="#333333" stroke-width="1.1" />
<line x1="192.82" y1="645.92" x2="192.82" y2="680.36" stroke="#333333" stroke-width="1.1" />
<rect x="175.72" y="611.48" width="34.20" height="34.44" fill="#B63A2A" stroke="#333333" stroke-width="0.9" />
<line x1="175.72" y1="645.92" x2="209.92" y2="645.92" stroke="#333333" stroke-width="2.0" />
<circle cx="192.82" cy="714.80" r="1.75" fill="#333333"/>
<circle cx="192.82" cy="542.60" r="1.75" fill="#333333"/>
<line x1="238.18" y1="577.04" x2="238.18" y2="611.48" stroke="#333333" stroke-width="1.1" />
<line x1="238.18" y1="645.92" x2="238.18" y2="680.36" stroke="#333333" stroke-width="1.1" />
<rect x="221.08" y="611.48" width="34.20" height="34.44" fill="#146DAA" stroke="#333333" stroke-width="0.9" />
<line x1="221.08" y1="611.48" x2="255.28" y2="611.48" stroke="#333333" stroke-width="2.0" />
<circle cx="238.18" cy="714.80" r="1.75" fill="#333333"/>
<circle cx="238.18" cy="542.60" r="1.75" fill="#333333"/>
<rect x="165.60" y="525.00" width="99.80" height="198.80" fill="none" stroke="#707070" stroke-width="1.0" />
<rect x="165.60" y="510.40" width="99.80" height="14.60" fill="#D9D9D9" stroke="#929292" stroke-width="1.0" />
<line x1="165.10" y1="525.40" x2="265.90" y2="525.40" stroke="#4A4A4A" stroke-width="1.2" />
<text transform="translate(172.80,520.80) scale(1,1.04)" font-size="8.6" text-anchor="start" fill="#1A1A1A" stroke="#1A1A1A" >ips_ctla4_neg_pd1_pos</text>
<line x1="163.10" y1="714.80" x2="165.60" y2="714.80" stroke="#333333" stroke-width="0.9" />
<text transform="translate(162.40,717.40) scale(1,1.12)" font-size="8.9" text-anchor="end" fill="#4D4D4D" stroke="#4D4D4D" >5</text>
<line x1="163.10" y1="680.36" x2="165.60" y2="680.36" stroke="#333333" stroke-width="0.9" />
<text transform="translate(162.40,682.96) scale(1,1.12)" font-size="8.9" text-anchor="end" fill="#4D4D4D" stroke="#4D4D4D" >6</text>
<line x1="163.10" y1="645.92" x2="165.60" y2="645.92" stroke="#333333" stroke-width="0.9" />
<text transform="translate(162.40,648.52) scale(1,1.12)" font-size="8.9" text-anchor="end" fill="#4D4D4D" stroke="#4D4D4D" >7</text>
<line x1="163.10" y1="611.48" x2="165.60" y2="611.48" stroke="#333333" stroke-width="0.9" />
<text transform="translate(162.40,614.08) scale(1,1.12)" font-size="8.9" text-anchor="end" fill="#4D4D4D" stroke="#4D4D4D" >8</text>
<line x1="163.10" y1="577.04" x2="165.60" y2="577.04" stroke="#333333" stroke-width="0.9" />
<text transform="translate(162.40,579.64) scale(1,1.12)" font-size="8.9" text-anchor="end" fill="#4D4D4D" stroke="#4D4D4D" >9</text>
<line x1="163.10" y1="542.60" x2="165.60" y2="542.60" stroke="#333333" stroke-width="0.9" />
<text transform="translate(162.40,545.20) scale(1,1.12)" font-size="8.9" text-anchor="end" fill="#4D4D4D" stroke="#4D4D4D" >10</text>
<line x1="192.82" y1="723.80" x2="192.82" y2="725.80" stroke="#333333" stroke-width="0.9" />
<text transform="translate(194.12,734.20) scale(1,1.03)" font-size="9.3" text-anchor="middle" fill="#4D4D4D" stroke="#4D4D4D" >high</text>
<line x1="238.18" y1="723.80" x2="238.18" y2="725.80" stroke="#333333" stroke-width="0.9" />
<text transform="translate(239.48,734.20) scale(1,1.03)" font-size="9.3" text-anchor="middle" fill="#4D4D4D" stroke="#4D4D4D" >low</text>
<polyline points="192.82,539.20 192.82,534.40 238.18,534.40 238.18,539.20" fill="none" stroke="#333333" stroke-width="0.8"/>
<text transform="translate(222.35,532.60) scale(1,1.05)" font-size="9.5" text-anchor="middle" fill="#000" stroke="#000" >p &lt; 0.001</text>
<line x1="310.95" y1="542.60" x2="310.95" y2="585.65" stroke="#333333" stroke-width="1.1" />
<line x1="310.95" y1="628.70" x2="310.95" y2="671.75" stroke="#333333" stroke-width="1.1" />
<rect x="293.85" y="585.65" width="34.20" height="43.05" fill="#B63A2A" stroke="#333333" stroke-width="0.9" />
<line x1="293.85" y1="628.70" x2="328.05" y2="628.70" stroke="#333333" stroke-width="2.0" />
<circle cx="310.95" cy="714.80" r="1.75" fill="#333333"/>
<line x1="356.35" y1="542.60" x2="356.35" y2="585.65" stroke="#333333" stroke-width="1.1" />
<line x1="356.35" y1="628.70" x2="356.35" y2="671.75" stroke="#333333" stroke-width="1.1" />
<rect x="339.25" y="585.65" width="34.20" height="43.05" fill="#146DAA" stroke="#333333" stroke-width="0.9" />
<line x1="339.25" y1="585.65" x2="373.45" y2="585.65" stroke="#333333" stroke-width="2.0" />
<circle cx="356.35" cy="714.80" r="1.75" fill="#333333"/>
<rect x="283.70" y="525.00" width="99.90" height="198.80" fill="none" stroke="#707070" stroke-width="1.0" />
<rect x="283.70" y="510.40" width="99.90" height="14.60" fill="#D9D9D9" stroke="#929292" stroke-width="1.0" />
<line x1="283.20" y1="525.40" x2="384.10" y2="525.40" stroke="#4A4A4A" stroke-width="1.2" />
<text transform="translate(290.60,520.80) scale(1,1.04)" font-size="8.6" text-anchor="start" fill="#1A1A1A" stroke="#1A1A1A" >ips_ctla4_pos_pd1_neg</text>
<line x1="281.20" y1="714.80" x2="283.70" y2="714.80" stroke="#333333" stroke-width="0.9" />
<text transform="translate(280.50,717.40) scale(1,1.12)" font-size="8.9" text-anchor="end" fill="#4D4D4D" stroke="#4D4D4D" >6</text>
<line x1="281.20" y1="671.75" x2="283.70" y2="671.75" stroke="#333333" stroke-width="0.9" />
<text transform="translate(280.50,674.35) scale(1,1.12)" font-size="8.9" text-anchor="end" fill="#4D4D4D" stroke="#4D4D4D" >7</text>
<line x1="281.20" y1="628.70" x2="283.70" y2="628.70" stroke="#333333" stroke-width="0.9" />
<text transform="translate(280.50,631.30) scale(1,1.12)" font-size="8.9" text-anchor="end" fill="#4D4D4D" stroke="#4D4D4D" >8</text>
<line x1="281.20" y1="585.65" x2="283.70" y2="585.65" stroke="#333333" stroke-width="0.9" />
<text transform="translate(280.50,588.25) scale(1,1.12)" font-size="8.9" text-anchor="end" fill="#4D4D4D" stroke="#4D4D4D" >9</text>
<line x1="281.20" y1="542.60" x2="283.70" y2="542.60" stroke="#333333" stroke-width="0.9" />
<text transform="translate(280.50,545.20) scale(1,1.12)" font-size="8.9" text-anchor="end" fill="#4D4D4D" stroke="#4D4D4D" >10</text>
<line x1="310.95" y1="723.80" x2="310.95" y2="725.80" stroke="#333333" stroke-width="0.9" />
<text transform="translate(312.25,734.20) scale(1,1.03)" font-size="9.3" text-anchor="middle" fill="#4D4D4D" stroke="#4D4D4D" >high</text>
<line x1="356.35" y1="723.80" x2="356.35" y2="725.80" stroke="#333333" stroke-width="0.9" />
<text transform="translate(357.65,734.20) scale(1,1.03)" font-size="9.3" text-anchor="middle" fill="#4D4D4D" stroke="#4D4D4D" >low</text>
<polyline points="310.95,539.20 310.95,534.40 356.35,534.40 356.35,539.20" fill="none" stroke="#333333" stroke-width="0.8"/>
<text transform="translate(336.65,532.60) scale(1,1.05)" font-size="9.5" text-anchor="middle" fill="#000" stroke="#000" >p &lt; 0.001</text>
<line x1="433.85" y1="611.48" x2="433.85" y2="645.92" stroke="#333333" stroke-width="1.1" />
<line x1="433.85" y1="680.36" x2="433.85" y2="714.80" stroke="#333333" stroke-width="1.1" />
<rect x="416.75" y="645.92" width="34.20" height="34.44" fill="#B63A2A" stroke="#333333" stroke-width="0.9" />
<line x1="416.75" y1="645.92" x2="450.95" y2="645.92" stroke="#333333" stroke-width="2.0" />
<circle cx="433.85" cy="577.04" r="1.75" fill="#333333"/>
<circle cx="433.85" cy="542.60" r="1.75" fill="#333333"/>
<line x1="479.25" y1="577.04" x2="479.25" y2="611.48" stroke="#333333" stroke-width="1.1" />
<line x1="479.25" y1="645.92" x2="479.25" y2="680.36" stroke="#333333" stroke-width="1.1" />
<rect x="462.15" y="611.48" width="34.20" height="34.44" fill="#146DAA" stroke="#333333" stroke-width="0.9" />
<line x1="462.15" y1="645.92" x2="496.35" y2="645.92" stroke="#333333" stroke-width="2.0" />
<circle cx="479.25" cy="714.80" r="1.75" fill="#333333"/>
<circle cx="479.25" cy="542.60" r="1.75" fill="#333333"/>
<rect x="406.60" y="525.00" width="99.90" height="198.80" fill="none" stroke="#707070" stroke-width="1.0" />
<rect x="406.60" y="510.40" width="99.90" height="14.60" fill="#D9D9D9" stroke="#929292" stroke-width="1.0" />
<line x1="406.10" y1="525.40" x2="507.00" y2="525.40" stroke="#4A4A4A" stroke-width="1.2" />
<text transform="translate(413.80,520.80) scale(1,1.04)" font-size="8.6" text-anchor="start" fill="#1A1A1A" stroke="#1A1A1A" >ips_ctla4_pos_pd1_pos</text>
<line x1="404.10" y1="714.80" x2="406.60" y2="714.80" stroke="#333333" stroke-width="0.9" />
<text transform="translate(403.40,717.40) scale(1,1.12)" font-size="8.9" text-anchor="end" fill="#4D4D4D" stroke="#4D4D4D" >5</text>
<line x1="404.10" y1="680.36" x2="406.60" y2="680.36" stroke="#333333" stroke-width="0.9" />
<text transform="translate(403.40,682.96) scale(1,1.12)" font-size="8.9" text-anchor="end" fill="#4D4D4D" stroke="#4D4D4D" >6</text>
<line x1="404.10" y1="645.92" x2="406.60" y2="645.92" stroke="#333333" stroke-width="0.9" />
<text transform="translate(403.40,648.52) scale(1,1.12)" font-size="8.9" text-anchor="end" fill="#4D4D4D" stroke="#4D4D4D" >7</text>
<line x1="404.10" y1="611.48" x2="406.60" y2="611.48" stroke="#333333" stroke-width="0.9" />
<text transform="translate(403.40,614.08) scale(1,1.12)" font-size="8.9" text-anchor="end" fill="#4D4D4D" stroke="#4D4D4D" >8</text>
<line x1="404.10" y1="577.04" x2="406.60" y2="577.04" stroke="#333333" stroke-width="0.9" />
<text transform="translate(403.40,579.64) scale(1,1.12)" font-size="8.9" text-anchor="end" fill="#4D4D4D" stroke="#4D4D4D" >9</text>
<line x1="404.10" y1="542.60" x2="406.60" y2="542.60" stroke="#333333" stroke-width="0.9" />
<text transform="translate(403.40,545.20) scale(1,1.12)" font-size="8.9" text-anchor="end" fill="#4D4D4D" stroke="#4D4D4D" >10</text>
<line x1="433.85" y1="723.80" x2="433.85" y2="725.80" stroke="#333333" stroke-width="0.9" />
<text transform="translate(435.15,734.20) scale(1,1.03)" font-size="9.3" text-anchor="middle" fill="#4D4D4D" stroke="#4D4D4D" >high</text>
<line x1="479.25" y1="723.80" x2="479.25" y2="725.80" stroke="#333333" stroke-width="0.9" />
<text transform="translate(480.55,734.20) scale(1,1.03)" font-size="9.3" text-anchor="middle" fill="#4D4D4D" stroke="#4D4D4D" >low</text>
<polyline points="433.85,539.20 433.85,534.40 479.25,534.40 479.25,539.20" fill="none" stroke="#333333" stroke-width="0.8"/>
<text transform="translate(459.55,532.60) scale(1,1.05)" font-size="9.5" text-anchor="middle" fill="#000" stroke="#000" >p &lt; 0.001</text>
<circle cx="556.27" cy="702.20" r="1.75" fill="#333333"/>
<circle cx="556.27" cy="704.00" r="1.75" fill="#333333"/>
<circle cx="556.27" cy="705.80" r="1.75" fill="#333333"/>
<circle cx="556.27" cy="707.60" r="1.75" fill="#333333"/>
<circle cx="556.27" cy="709.40" r="1.75" fill="#333333"/>
<circle cx="556.27" cy="711.20" r="1.75" fill="#333333"/>
<circle cx="556.27" cy="713.00" r="1.75" fill="#333333"/>
<circle cx="556.27" cy="714.60" r="1.75" fill="#333333"/>
<rect x="539.17" y="712.80" width="34.20" height="1.20" fill="#B63A2A" stroke="#333333" stroke-width="0.9" />
<line x1="539.17" y1="713.40" x2="573.37" y2="713.40" stroke="#333333" stroke-width="2.0" />
<circle cx="601.73" cy="541.90" r="1.75" fill="#333333"/>
<circle cx="601.73" cy="701.40" r="1.75" fill="#333333"/>
<circle cx="601.73" cy="706.30" r="1.75" fill="#333333"/>
<circle cx="601.73" cy="708.00" r="1.75" fill="#333333"/>
<circle cx="601.73" cy="709.60" r="1.75" fill="#333333"/>
<circle cx="601.73" cy="711.20" r="1.75" fill="#333333"/>
<circle cx="601.73" cy="712.90" r="1.75" fill="#333333"/>
<rect x="584.63" y="712.80" width="34.20" height="1.20" fill="#146DAA" stroke="#333333" stroke-width="0.9" />
<line x1="584.63" y1="713.40" x2="618.83" y2="713.40" stroke="#333333" stroke-width="2.0" />
<rect x="529.00" y="525.00" width="100.00" height="198.80" fill="none" stroke="#707070" stroke-width="1.0" />
<rect x="529.00" y="510.40" width="100.00" height="14.60" fill="#D9D9D9" stroke="#929292" stroke-width="1.0" />
<line x1="528.50" y1="525.40" x2="629.50" y2="525.40" stroke="#4A4A4A" stroke-width="1.2" />
<text transform="translate(540.30,520.80) scale(1,1.04)" font-size="9.52" text-anchor="start" fill="#1A1A1A" stroke="#1A1A1A" >Paclitaxel_response</text>
<line x1="526.50" y1="713.40" x2="529.00" y2="713.40" stroke="#333333" stroke-width="0.9" />
<text transform="translate(525.80,716.00) scale(1,1.12)" font-size="8.9" text-anchor="end" fill="#4D4D4D" stroke="#4D4D4D" >0</text>
<line x1="526.50" y1="668.67" x2="529.00" y2="668.67" stroke="#333333" stroke-width="0.9" />
<text transform="translate(525.80,671.27) scale(1,1.12)" font-size="8.9" text-anchor="end" fill="#4D4D4D" stroke="#4D4D4D" >200</text>
<line x1="526.50" y1="623.95" x2="529.00" y2="623.95" stroke="#333333" stroke-width="0.9" />
<text transform="translate(525.80,626.55) scale(1,1.12)" font-size="8.9" text-anchor="end" fill="#4D4D4D" stroke="#4D4D4D" >400</text>
<line x1="526.50" y1="579.23" x2="529.00" y2="579.23" stroke="#333333" stroke-width="0.9" />
<text transform="translate(525.80,581.83) scale(1,1.12)" font-size="8.9" text-anchor="end" fill="#4D4D4D" stroke="#4D4D4D" >600</text>
<line x1="526.50" y1="534.50" x2="529.00" y2="534.50" stroke="#333333" stroke-width="0.9" />
<text transform="translate(525.80,537.10) scale(1,1.12)" font-size="8.9" text-anchor="end" fill="#4D4D4D" stroke="#4D4D4D" >800</text>
<line x1="556.27" y1="723.80" x2="556.27" y2="725.80" stroke="#333333" stroke-width="0.9" />
<text transform="translate(557.57,734.20) scale(1,1.03)" font-size="9.3" text-anchor="middle" fill="#4D4D4D" stroke="#4D4D4D" >high</text>
<line x1="601.73" y1="723.80" x2="601.73" y2="725.80" stroke="#333333" stroke-width="0.9" />
<text transform="translate(603.03,734.20) scale(1,1.03)" font-size="9.3" text-anchor="middle" fill="#4D4D4D" stroke="#4D4D4D" >low</text>
<polyline points="556.27,539.20 556.27,534.40 601.73,534.40 601.73,539.20" fill="none" stroke="#333333" stroke-width="0.8"/>
<text transform="translate(578.60,532.60) scale(1,1.05)" font-size="9.5" text-anchor="middle" fill="#000" stroke="#000" >0.28</text>
<text transform="translate(27.90,508.80) rotate(-90) scale(1,1.0)" font-size="9.0" text-anchor="middle" fill="#000" stroke="#000">value</text>
<text transform="translate(641.00,279.60) scale(1,1.0)" font-size="9.3" text-anchor="start" fill="#000" stroke="#000" >group</text>
<line x1="644.60" y1="286.50" x2="644.60" y2="287.70" stroke="#333333" stroke-width="0.6" />
<line x1="644.60" y1="291.50" x2="644.60" y2="292.70" stroke="#333333" stroke-width="0.6" />
<rect x="641.50" y="287.70" width="6.20" height="3.80" fill="#B63A2A" stroke="#333333" stroke-width="0.6" />
<line x1="641.50" y1="289.60" x2="647.70" y2="289.60" stroke="#333333" stroke-width="0.9" />
<text transform="translate(650.70,291.00) scale(1,1.0)" font-size="9.3" text-anchor="start" fill="#000" stroke="#000" >high</text>
<line x1="644.90" y1="301.00" x2="644.90" y2="302.20" stroke="#333333" stroke-width="0.6" />
<line x1="644.90" y1="306.00" x2="644.90" y2="307.20" stroke="#333333" stroke-width="0.6" />
<rect x="641.80" y="302.20" width="6.20" height="3.80" fill="#146DAA" stroke="#333333" stroke-width="0.6" />
<line x1="641.80" y1="304.10" x2="648.00" y2="304.10" stroke="#333333" stroke-width="0.9" />
<text transform="translate(651.00,305.90) scale(1,1.0)" font-size="9.3" text-anchor="start" fill="#000" stroke="#000" >low</text>
</g>
</svg>
</body></html>
